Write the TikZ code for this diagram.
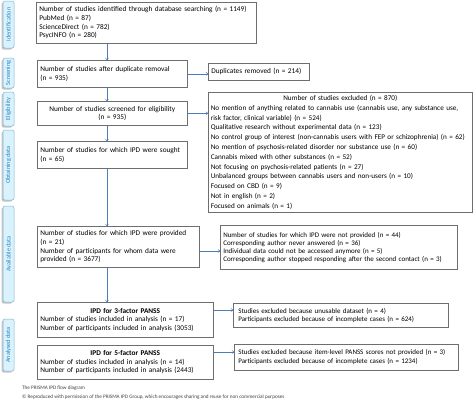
\documentclass[tikz,border=0pt]{standalone}
\usepackage{fontspec}
\setmainfont{Carlito}
\usetikzlibrary{arrows.meta,shadows,calc}
\definecolor{arrowblue}{HTML}{4A7EBB}
\definecolor{tabfill}{HTML}{D9F2FC}
\definecolor{tabdraw}{HTML}{7FB3D5}
\definecolor{tabtext}{HTML}{2F86C8}
\definecolor{boxdraw}{HTML}{6E6E6E}
\definecolor{foottext}{HTML}{404040}
\begin{document}
\begin{tikzpicture}[x=1pt,y=-1pt,
  flowbox/.style={draw=boxdraw, line width=0.6pt, fill=white, anchor=north west,
    inner xsep=3pt, inner ysep=0pt, align=left,
    font=\fontsize{7.3}{8.6}\selectfont,
    drop shadow={shadow xshift=0.8pt, shadow yshift=-0.8pt, fill=gray!60}},
  arr/.style={draw=arrowblue, line width=0.5pt, -{To[length=2.2pt,width=3.5pt]}},
  tabbox/.style={draw=tabdraw, fill=tabfill, rounded corners=2pt, line width=0.5pt},
  tabshadow/.style={fill=gray!45, rounded corners=2pt},
  tablabel/.style={rotate=90, text=tabtext, font=\fontsize{6.3}{6.5}\selectfont},
  footnote/.style={anchor=west, text=foottext, font=\fontsize{5.2}{6}\selectfont, inner sep=0pt},
]
\useasboundingbox[fill=white] (0,0) rectangle (474,405);

% side tabs
\foreach \ya/\yb/\lab/\nm in {1/48/Identification/t1, 58/88/Screening/t2, 92/126/Eligibility/t3,
  130/200/Obtaining data/t4, 206/302/Available data/t5, 319/371/Analysed data/t6}{
  \fill[tabshadow] (1.5,\ya+1.5) rectangle (12.5,\yb+1.5);
  \draw[tabbox] (3,\ya) rectangle (14,\yb);
  \node[tablabel] (\nm) at (8.5,{(\ya+\yb)/2}) {\lab};
}

% main column
\node[flowbox, text width=214pt, minimum height=41pt] (b1) at (36,2)
  {Number of studies identified through database searching (n = 1149)\\PubMed (n = 87)\\ScienceDirect (n = 782)\\PsycINFO (n = 280)};
\node[flowbox, text width=144pt, minimum height=27pt] (b2) at (37,60)
  {Number of studies after duplicate removal\\(n = 935)};
\node[flowbox, text width=95pt, minimum height=17pt] (dup) at (208,63)
  {Duplicates removed (n = 214)};
\node[flowbox, text width=144pt, minimum height=24pt, align=center] (b3) at (37,101)
  {Number of studies screened for eligibility\\(n = 935)};
\node[flowbox, text width=259pt, inner xsep=2.5pt, minimum height=120pt, font=\fontsize{7.2}{9.8}\selectfont] (excl) at (208,92)
  {\makebox[259pt]{Number of studies excluded (n = 870)}\\
   No mention of anything related to cannabis use (cannabis use, any substance use,\\
   risk factor, clinical variable) (n = 524)\\
   Qualitative research without experimental data (n = 123)\\
   No control group of interest (non-cannabis users with FEP or schizophrenia) (n = 62)\\
   No mention of psychosis-related disorder nor substance use (n = 60)\\
   Cannabis mixed with other substances (n = 52)\\
   Not focusing on psychosis-related patients (n = 27)\\
   Unbalanced groups between cannabis users and non-users (n = 10)\\
   Focused on CBD (n = 9)\\
   Not in english (n = 2)\\
   Focused on animals (n = 1)};
\node[flowbox, text width=144pt, minimum height=27pt] (b4) at (37,141)
  {Number of studies for which IPD were sought\\(n = 65)};
\node[flowbox, text width=156pt, minimum height=41pt] (b5) at (37,226)
  {Number of studies for which IPD were provided\\(n = 21)\\Number of participants for whom data were\\provided (n = 3677)};
\node[flowbox, text width=231pt, minimum height=44pt, font=\fontsize{7.0}{8.1}\selectfont] (np) at (220,225)
  {Number of studies for which IPD were not provided (n = 44)\\
   Corresponding author never answered (n = 36)\\
   Individual data could not be accessed anymore (n = 5)\\
   Corresponding author stopped responding after the second contact (n = 3)};
\node[flowbox, text width=170pt, minimum height=35pt] (b6) at (37,302)
  {\makebox[170pt]{\bfseries IPD for 3-factor PANSS}\\
   Number of studies included in analysis (n = 17)\\
   Number of participants included in analysis (3053)};
\node[flowbox, text width=205pt, minimum height=24pt, inner xsep=5pt, font=\fontsize{7.0}{8.4}\selectfont] (ex6) at (233,303)
  {Studies excluded because unusable dataset (n = 4)\\
   Participants excluded because of incomplete cases (n = 624)};
\node[flowbox, text width=216pt, minimum height=26pt, inner xsep=4pt, font=\fontsize{7.0}{8.8}\selectfont] (ex7) at (234,344)
  {Studies excluded because item-level PANSS scores not provided (n = 3)\\
   Participants excluded because of incomplete cases (n = 1234)};
\node[flowbox, text width=170pt, minimum height=34pt] (b7) at (37,345)
  {\makebox[170pt]{\bfseries IPD for 5-factor PANSS}\\
   Number of studies included in analysis (n = 14)\\
   Number of participants included in analysis (2443)};

% connectors
\coordinate (col) at (107,0);
\draw[arr] (b1.south -| col) -- (b2.north -| col);
\draw[arr] (b2.south -| col) -- (b3.north -| col);
\draw[arr] (b3.south -| col) -- (b4.north -| col);
\draw[arr] (b4.south -| col) -- (b5.north -| col);
\draw[arr] (b5.south -| col) -- (b6.north -| col);
\draw[arr] (b2.east) -- (b2.east -| dup.west);
\draw[arr] (b3.east) -- (b3.east -| excl.west);
\coordinate (h5) at (0,251);
\coordinate (h6) at (0,310);
\coordinate (h7) at (0,352);
\draw[arr] (b5.east |- h5) -- (np.west |- h5);
\draw[arr] (b6.east |- h6) -- (ex6.west |- h6);
\draw[arr] (b7.east |- h7) -- (ex7.west |- h7);

% footer
\node[footnote] (f1) at (22,388) {The PRISMA IPD flow diagram};
\node[footnote] (f2) at (22,397) {© Reproduced with permission of the PRISMA IPD Group, which encourages sharing and reuse for non commercial purposes};
\end{tikzpicture}
\end{document}
